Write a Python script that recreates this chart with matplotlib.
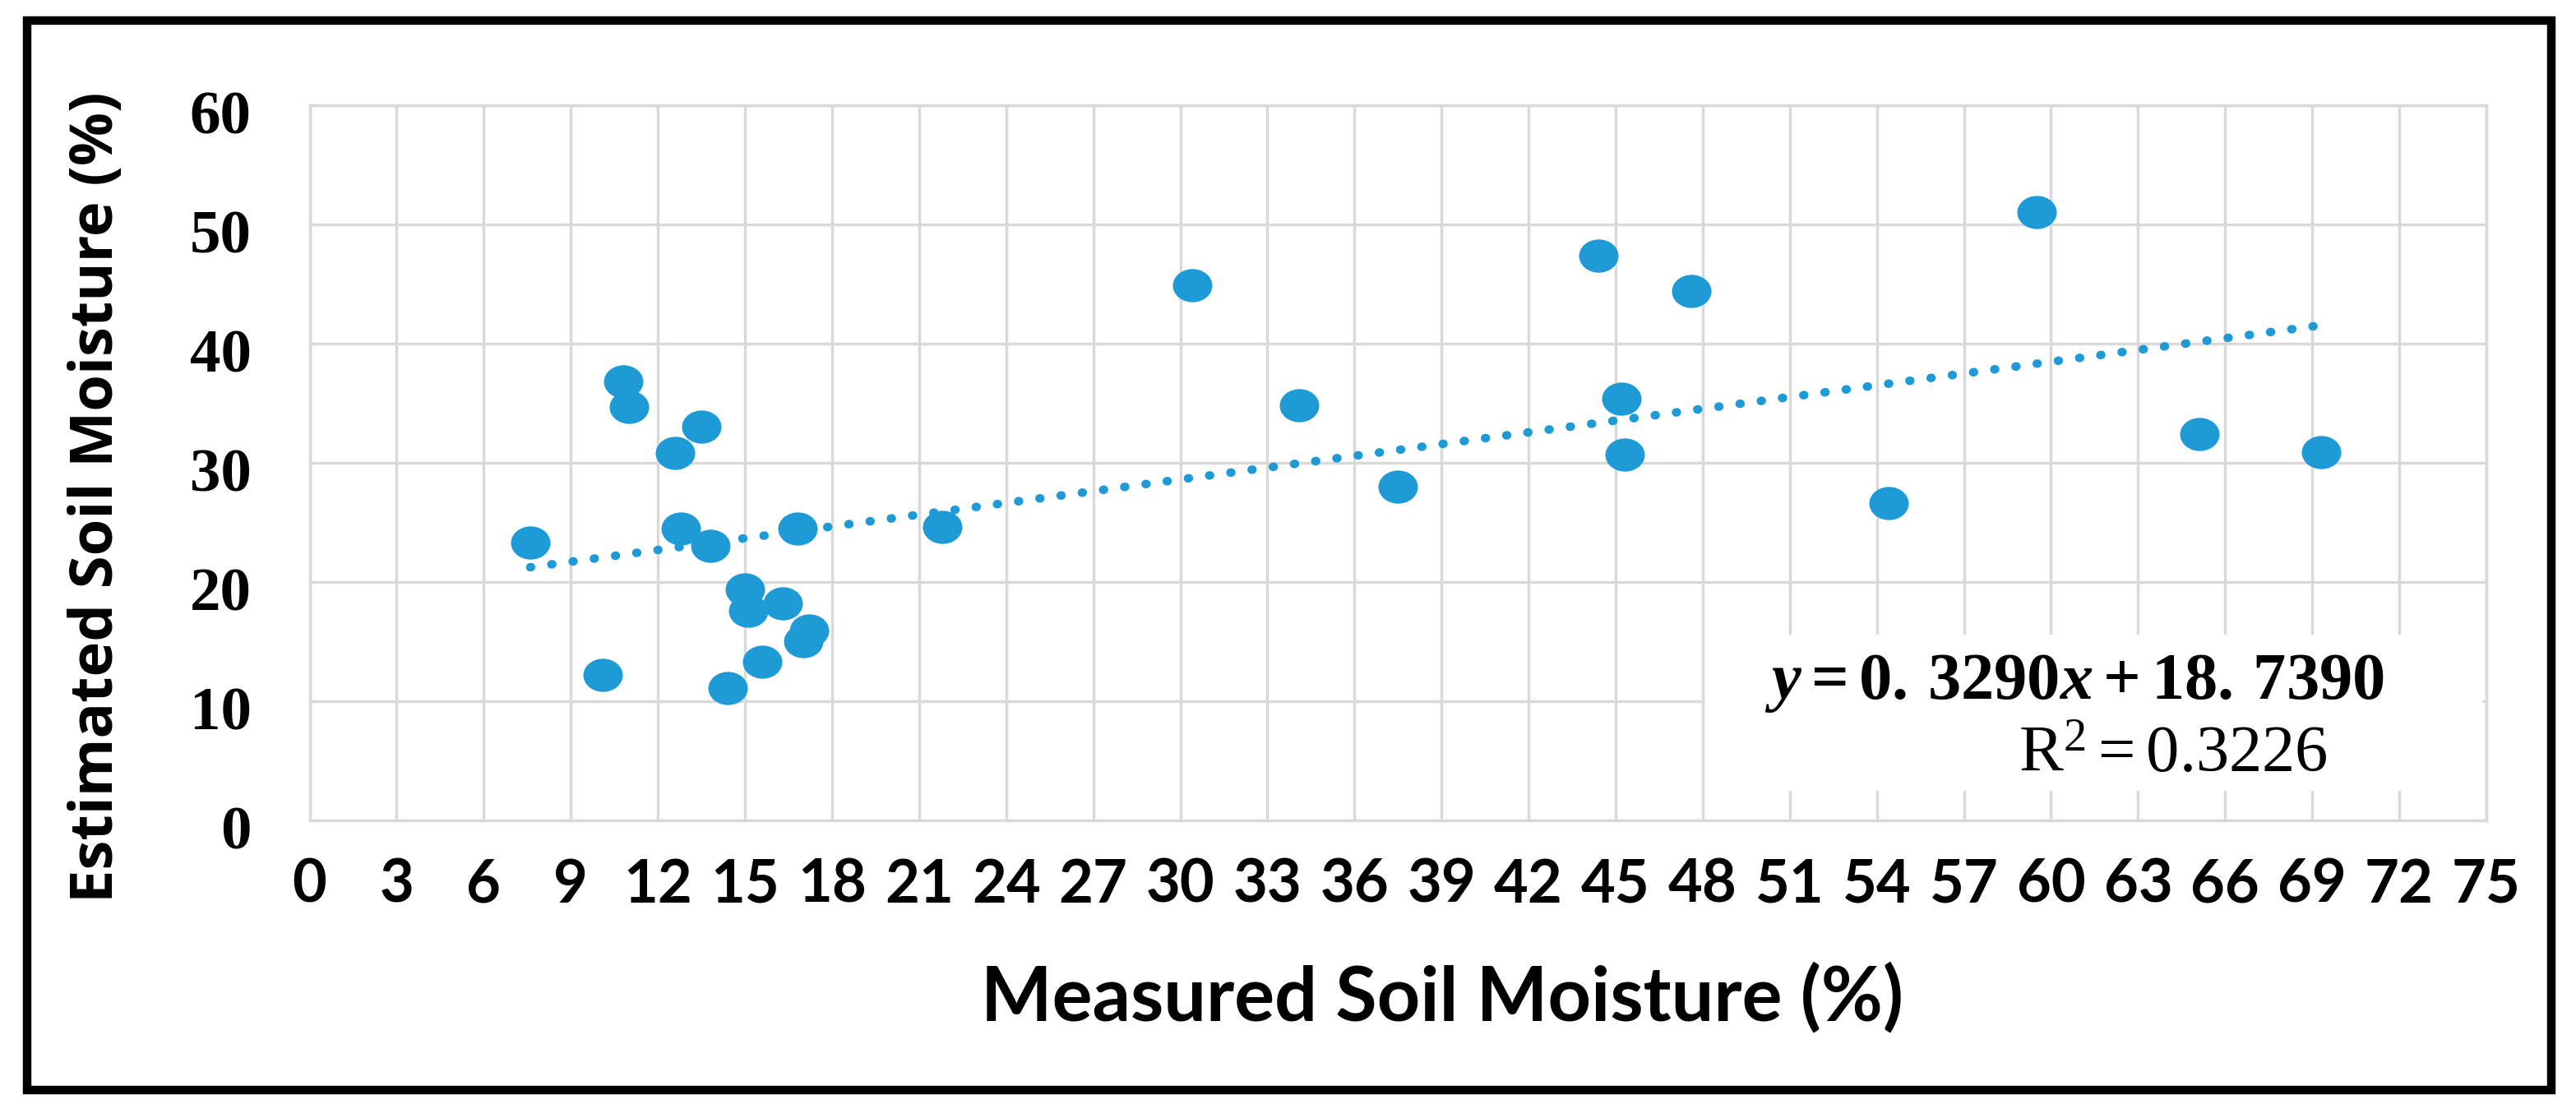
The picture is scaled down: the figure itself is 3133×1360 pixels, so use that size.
import numpy as np
import matplotlib
matplotlib.use('Agg')
import matplotlib.pyplot as plt
from matplotlib.path import Path
from matplotlib.transforms import Affine2D, ScaledTranslation
from matplotlib.patches import Rectangle

# measured vs estimated soil moisture (%)
measured = [7.6, 10.8, 11.0, 13.5, 12.6, 12.8, 13.8, 16.8, 15.0, 15.1, 16.3, 17.2, 17.0, 15.6,
            14.4, 10.1, 21.8, 30.4, 34.1, 37.5, 44.4, 47.6, 45.2, 45.3, 59.5, 54.4, 65.1, 69.3]
estimated = [23.3, 36.8, 34.7, 33.0, 30.8, 24.5, 23.0, 24.5, 19.4, 17.6, 18.2, 15.9, 15.0, 13.3,
             11.1, 12.2, 24.6, 44.9, 34.8, 28.0, 47.4, 44.4, 35.4, 30.7, 51.0, 26.6, 32.4, 30.9]
fit_coef = [0.3290, 18.7390]
r_squared = 0.3226
x_ticks = list(range(0, 76, 3))
y_ticks = list(range(0, 61, 10))

BLUE = '#1e9ad6'
GRID = '#d9d9d9'

plt.rcParams['mathtext.fontset'] = 'custom'
plt.rcParams['mathtext.rm'] = 'Liberation Serif:bold'
plt.rcParams['mathtext.it'] = 'Liberation Serif:italic:bold'
plt.rcParams['mathtext.bf'] = 'Liberation Serif:bold'

sans = ['Lato', 'DejaVu Sans']

fig = plt.figure(figsize=(31.33, 13.6), dpi=100)
ax = fig.add_axes([0.1202, 0.2662, 0.8450, 0.6397])

# slightly flattened circle marker, like the original
ellipse = Path.unit_circle().transformed(Affine2D().scale(1.0, 0.84))
ax.scatter(measured, estimated, s=1195, marker=ellipse, color=BLUE, linewidths=0, zorder=3)

# linear trend over the range of the data
xs = np.array([min(measured), max(measured)])
ax.plot(xs, fit_coef[0] * xs + fit_coef[1], color=BLUE, lw=7.5,
        linestyle=(0, (0.1, 2.4)), dash_capstyle='round', zorder=4)

ax.set_xlim(0, 75)
ax.set_ylim(0, 60)
ax.set_xticks(x_ticks)
ax.set_yticks(y_ticks)
ax.set_axisbelow(True)
ax.grid(True, color=GRID, lw=2.5)
for sp in ax.spines.values():
    sp.set_color(GRID)
    sp.set_linewidth(2.5)

ax.tick_params(axis='both', length=0)
ax.tick_params(axis='y', pad=51)
ax.tick_params(axis='x', pad=33)
for lab in ax.get_xticklabels():
    lab.set_family(sans)
    lab.set_fontweight('bold')
    lab.set_fontsize(52)
shift = ScaledTranslation(0, -9 / 100, fig.dpi_scale_trans)
for lab in ax.get_yticklabels():
    lab.set_family('Liberation Serif')
    lab.set_fontweight('bold')
    lab.set_fontsize(54)
    lab.set_transform(lab.get_transform() + shift)

# white box behind the equation
ax.add_patch(Rectangle((48.1, 2.45), 26.75, 13.15, facecolor='white', edgecolor='none', zorder=2))
fig.text(0.8053, 0.375, r'$y = 0.\,3290x + 18.\,7390$', fontsize=58,
         ha='center', va='baseline')
fig.text(0.8436, 0.3088, r'$\mathregular{R^2 = 0.3226}$', family='Liberation Serif',
         fontsize=58, ha='center', va='baseline')

fig.text(0.0377, 0.555, 'Estimated Soil Moisture (%)', rotation=90, family='Open Sans',
         fontweight='bold', fontsize=52, ha='center', va='center')
fig.text(0.560, 0.107, 'Measured Soil Moisture (%)', family=sans,
         fontweight='bold', fontsize=66, ha='center', va='center')

# black frame round the whole figure
fig.patches.append(Rectangle((0.0105, 0.025), 0.9799, 0.9566, transform=fig.transFigure,
                             fill=False, edgecolor='black', lw=7.5))

fig.savefig('out.png', dpi=100)
